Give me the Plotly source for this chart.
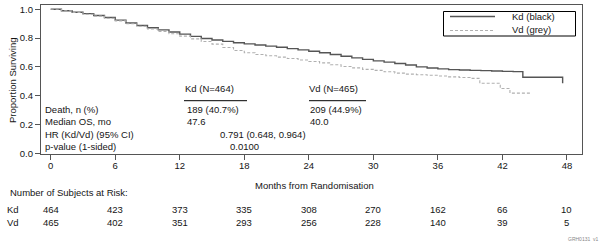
import plotly.graph_objects as go

# ---- data ----
kd_months = [0, 1, 2, 3, 4, 5, 6, 7, 8, 9, 10, 11, 12, 13, 14, 15, 16, 17, 18, 19, 20, 21, 22, 23, 24,
             25, 26, 27, 28, 29, 30, 31, 32, 33, 34, 35, 36, 37, 38, 39, 40, 41, 42, 43, 43.9, 47.6]
kd_surv = [1.0, 0.99, 0.98, 0.97, 0.957, 0.943, 0.925, 0.905, 0.888, 0.872, 0.857, 0.842, 0.828, 0.812,
           0.797, 0.787, 0.777, 0.768, 0.76, 0.752, 0.744, 0.736, 0.727, 0.718, 0.709, 0.698, 0.686, 0.674,
           0.663, 0.652, 0.642, 0.633, 0.624, 0.613, 0.6, 0.592, 0.586, 0.581, 0.578, 0.576, 0.574, 0.572,
           0.569, 0.567, 0.528, 0.486]
vd_months = [0, 1, 2, 3, 4, 5, 6, 7, 8, 9, 10, 11, 12, 13, 14, 15, 16, 17, 18, 19, 20, 21, 22, 23, 24,
             25, 26, 27, 28, 29, 30, 31, 32, 33, 34, 35, 36, 37, 38, 39, 39.9, 41.8, 42.7, 44.6]
vd_surv = [1.0, 0.99, 0.978, 0.966, 0.953, 0.938, 0.92, 0.9, 0.882, 0.863, 0.846, 0.83, 0.814, 0.795,
           0.776, 0.758, 0.735, 0.714, 0.698, 0.686, 0.677, 0.668, 0.658, 0.648, 0.638, 0.628, 0.615, 0.603,
           0.593, 0.583, 0.576, 0.566, 0.557, 0.55, 0.546, 0.542, 0.537, 0.531, 0.526, 0.52, 0.486, 0.45,
           0.418, 0.412]

risk_months = [0, 6, 12, 18, 24, 30, 36, 42, 48]
kd_at_risk = [464, 423, 373, 335, 308, 270, 162, 66, 10]
vd_at_risk = [465, 402, 351, 293, 256, 228, 140, 39, 5]

stat_labels = ["Death, n (%)", "Median OS, mo", "HR (Kd/Vd) (95% CI)", "p-value (1-sided)"]
kd_header = "Kd (N=464)"
vd_header = "Vd (N=465)"
kd_stats = ["189 (40.7%)", "47.6"]
vd_stats = ["209 (44.9%)", "40.0"]
hr_text = "0.791 (0.648, 0.964)"
p_text = "0.0100"

# ---- layout geometry (pixels) ----
W, H = 602, 246
L, R, T, B = 41, 20, 5, 92
PW, PH = W - L - R, H - T - B
FONT = "Liberation Sans, Arial, sans-serif"
FS = 9.5
TXT = "#151515"


def px(x):
    return (x - L) / PW


def py(y):
    return (H - B - y) / PH


fig = go.Figure()
fig.add_trace(go.Scatter(x=kd_months, y=kd_surv, mode="lines", line=dict(shape="hv", color="#555555", width=1.4),
                         name="Kd (black)", showlegend=False))
fig.add_trace(go.Scatter(x=vd_months, y=vd_surv, mode="lines", line=dict(shape="hv", color="#b0b0b0", width=1.1, dash="3px,2px"),
                         name="Vd (grey)", showlegend=False))

ann = []


def text(x, y, s, size=FS, anchor="left", xref="paper", color=TXT, angle=0):
    ann.append(dict(x=x, y=y, xref=xref, yref="paper", text=s, showarrow=False, xanchor=anchor,
                    yanchor="middle", textangle=angle, font=dict(family=FONT, size=size, color=color),
                    borderpad=0))


# y-axis title
text(px(12), py(80), "Proportion Surviving", size=FS, anchor="center", angle=-90)

# statistics table
for lab, yy in zip(stat_labels, [109, 121.5, 134.5, 146]):
    text(px(44), py(yy), lab)
text(px(184), py(88.5), kd_header)
text(px(308), py(88.5), vd_header)
for s, yy in zip(kd_stats, [109, 121]):
    text(px(186), py(yy), s)
for s, yy in zip(vd_stats, [109, 121]):
    text(px(309), py(yy), s)
text(px(219), py(134.5), hr_text)
text(px(229), py(146), p_text)

# x title and at-risk table
text(px(314), py(185), "Months from Randomisation", anchor="center")
text(px(9), py(192.5), "Number of Subjects at Risk:")
text(px(6), py(209.5), "Kd")
text(px(6), py(222), "Vd")
for m, a, b in zip(risk_months, kd_at_risk, vd_at_risk):
    ann.append(dict(x=m, y=py(209.5), xref="x", yref="paper", text=str(a), showarrow=False, xanchor="center",
                    yanchor="middle", font=dict(family=FONT, size=FS, color=TXT)))
    ann.append(dict(x=m, y=py(222), xref="x", yref="paper", text=str(b), showarrow=False, xanchor="center",
                    yanchor="middle", font=dict(family=FONT, size=FS, color=TXT)))

# legend (manual box)
text(px(511), py(16), "Kd (black)")
text(px(511), py(30), "Vd (grey)")
text(px(567), py(239), "GRH0131  v1", size=5, color="#888888")

shapes = [
    dict(type="rect", xref="paper", yref="paper", x0=px(443.5), x1=px(575.5), y0=py(11.5), y1=py(36),
         line=dict(color="#000000", width=1)),
    dict(type="line", xref="paper", yref="paper", x0=px(450), x1=px(495), y0=py(16.5), y1=py(16.5),
         line=dict(color="#555555", width=1.4)),
    dict(type="line", xref="paper", yref="paper", x0=px(450), x1=px(495), y0=py(30.5), y1=py(30.5),
         line=dict(color="#b0b0b0", width=1.1, dash="3px,2px")),
    dict(type="line", xref="paper", yref="paper", x0=px(184), x1=px(247), y0=py(100.7), y1=py(100.7),
         line=dict(color="#000000", width=1)),
    dict(type="line", xref="paper", yref="paper", x0=px(309), x1=px(366), y0=py(100.7), y1=py(100.7),
         line=dict(color="#000000", width=1)),
]

fig.update_layout(
    width=W, height=H, margin=dict(l=L, r=R, t=T, b=B, pad=0),
    paper_bgcolor="white", plot_bgcolor="white", showlegend=False,
    annotations=ann, shapes=shapes,
    font=dict(family=FONT, size=FS, color=TXT),
)
fig.update_xaxes(range=[-0.9, 49.4], tickmode="array", tickvals=risk_months, ticks="outside", ticklen=5,
                 tickcolor="#555555", showline=True, linecolor="#555555", linewidth=1.2, mirror=True,
                 showgrid=False, zeroline=False, tickfont=dict(family=FONT, size=FS, color=TXT),
                 ticklabelstandoff=-3)
fig.update_yaxes(range=[-0.005, 1.03], tickmode="array", tickvals=[0, 0.2, 0.4, 0.6, 0.8, 1.0],
                 tickformat=".1f", ticks="outside", ticklen=5, tickcolor="#555555", showline=True,
                 linecolor="#555555", linewidth=1.2, mirror=True, showgrid=False, zeroline=False,
                 tickfont=dict(family=FONT, size=FS, color=TXT))

fig.write_html("out.html")
